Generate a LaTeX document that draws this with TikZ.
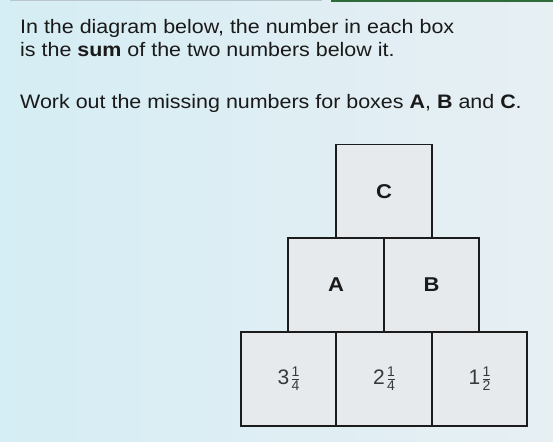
\documentclass[tikz,border=0pt]{standalone}
\usepackage{fontspec}
\setmainfont{Liberation Sans}[FakeStretch=1.1]
\newfontfamily\digitfont{Liberation Sans}
\definecolor{bgleft}{HTML}{D5EDF4}
\definecolor{bgright}{HTML}{E7EFF3}
\definecolor{boxfill}{HTML}{E6EAEC}
\definecolor{boxline}{HTML}{1C1C1C}
\definecolor{topgreen}{HTML}{2F6A3A}
\definecolor{topgray}{HTML}{B9C7CC}
\definecolor{inktext}{HTML}{1A1A1A}
\newcommand{\fracstack}[2]{\vbox{\offinterlineskip\halign{\hfil##\hfil\cr #1\cr\noalign{\kern2pt}\rule{7pt}{0.5pt}\cr\noalign{\kern2pt}#2\cr}}}
\newcommand{\mixfrac}[3]{{\digitfont\fontsize{21}{21}\selectfont #1}\kern2.5pt\raisebox{-6pt}{\digitfont\fontsize{14}{14}\selectfont\fracstack{#2}{#3}}}
\tikzset{
  pyrbox/.style={draw=boxline, line width=1.6pt, fill=boxfill, rectangle,
    minimum width=95.5pt, minimum height=94pt, inner sep=0pt, text=inktext},
  letterlbl/.style={font=\fontsize{20}{20}\selectfont\bfseries},
  numlbl/.style={text=black!78},
  textline/.style={anchor=base west, inner sep=0pt, text=inktext,
    font=\fontsize{19.5}{22}\selectfont}
}
\begin{document}
\begin{tikzpicture}[x=1pt,y=-1pt]
\useasboundingbox (0,0) rectangle (553,441);
\shade[left color=bgleft, right color=bgright] (0,0) rectangle (553,441);
\fill[topgray] (10,0) rectangle (322,1.2);
\fill[topgreen] (331,0) rectangle (553,2.5);
% text
\node[textline] (t1) at (20,34) {In the diagram below, the number in each box};
\node[textline] (t2) at (20,57) {is the \textbf{sum} of the two numbers below it.};
\node[textline] (t3) at (20,108) {Work out the missing numbers for boxes \textbf{A}, \textbf{B} and \textbf{C}.};
% boxes
\node[pyrbox, letterlbl] (C) at (384,191.5) {C};
\node[pyrbox, letterlbl] (A) at (336,285) {A};
\node[pyrbox, letterlbl] (B) at (431.5,285) {B};
\node[pyrbox, numlbl] (n1) at (288.5,379) {\mixfrac{3}{1}{4}};
\node[pyrbox, numlbl] (n2) at (384,379) {\mixfrac{2}{1}{4}};
\node[pyrbox, numlbl] (n3) at (479.5,379) {\mixfrac{1}{1}{2}};
\end{tikzpicture}
\end{document}
